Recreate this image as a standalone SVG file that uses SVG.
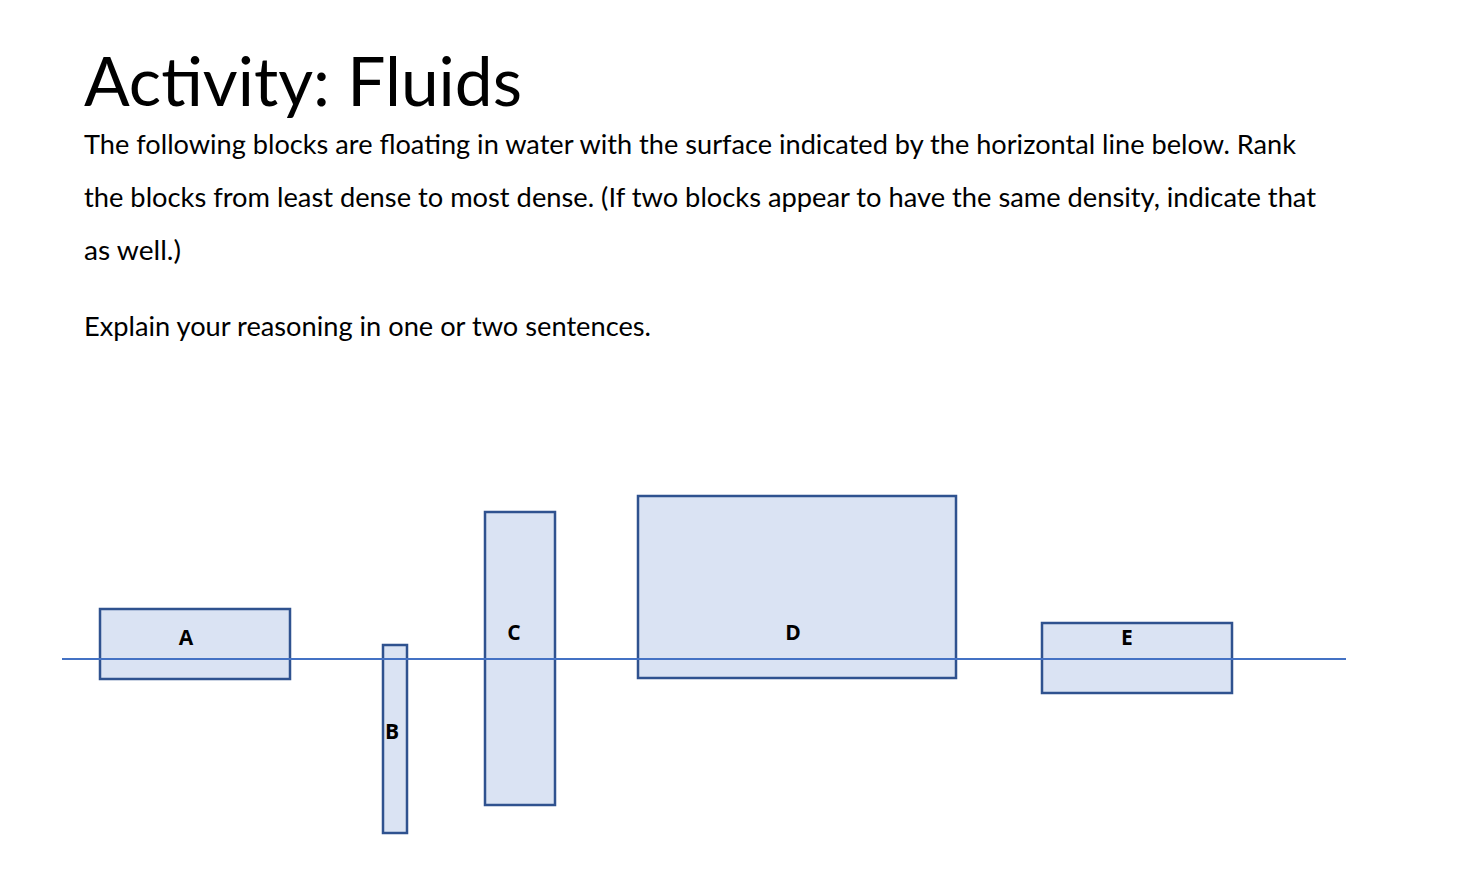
<svg xmlns="http://www.w3.org/2000/svg" width="1458" height="886" viewBox="0 0 1458 886">
<style>
.t{font-family:Lato,"Open Sans","Liberation Sans",sans-serif;fill:#000}
.b{fill:#DAE3F3;stroke:#2F528F;stroke-width:2.5}
.l{font-family:"Open Sans","Liberation Sans",sans-serif;font-weight:bold;font-size:21px;text-anchor:middle;fill:#000}
</style>
<rect width="1458" height="886" fill="#fff"/>
<text class="t" x="84" y="106" font-size="67" textLength="438" lengthAdjust="spacingAndGlyphs">Activity: Fluids</text>
<text class="t" x="84" y="154" font-size="26.5" textLength="1212" lengthAdjust="spacingAndGlyphs">The following blocks are floating in water with the surface indicated by the horizontal line below. Rank</text>
<text class="t" x="84" y="207" font-size="26.5" textLength="1232" lengthAdjust="spacingAndGlyphs">the blocks from least dense to most dense. (If two blocks appear to have the same density, indicate that</text>
<text class="t" x="84" y="260" font-size="26.5" textLength="97" lengthAdjust="spacingAndGlyphs">as well.)</text>
<text class="t" x="84" y="336" font-size="26.5" textLength="567" lengthAdjust="spacingAndGlyphs">Explain your reasoning in one or two sentences.</text>
<g id="A"><rect class="b" x="100" y="609" width="190" height="70"/><text class="l" x="186" y="645">A</text></g>
<g id="B"><rect class="b" x="383" y="645" width="24" height="188"/><text class="l" x="392" y="739">B</text></g>
<g id="C"><rect class="b" x="485" y="512" width="70" height="293"/><text class="l" x="514" y="640">C</text></g>
<g id="D"><rect class="b" x="638" y="496" width="318" height="182"/><text class="l" x="793" y="640">D</text></g>
<g id="E"><rect class="b" x="1042" y="623" width="190" height="70"/><text class="l" x="1127" y="645">E</text></g>
<g id="connectors"><line x1="62" y1="659" x2="1346" y2="659" stroke="#4472C4" stroke-width="2"/></g>
</svg>
